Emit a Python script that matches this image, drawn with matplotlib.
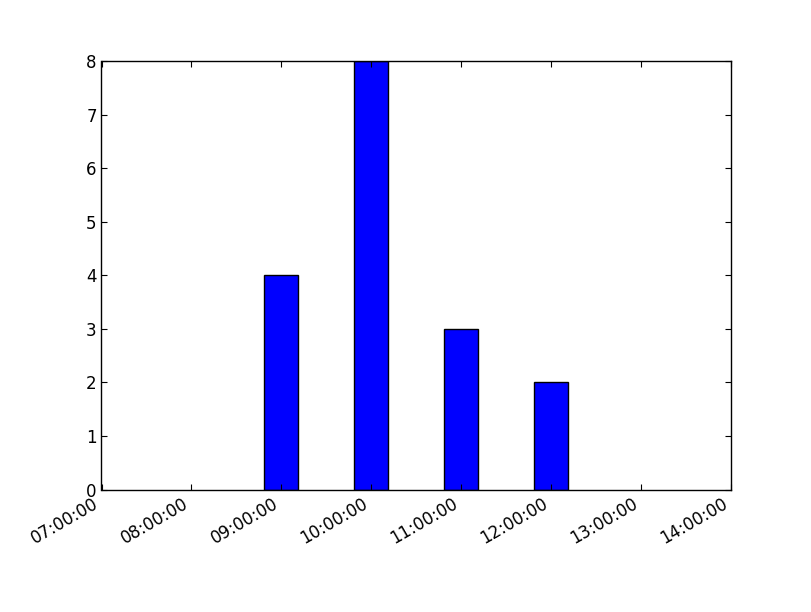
import datetime as dt
import matplotlib
matplotlib.use('Agg')
import matplotlib.pyplot as plt
import matplotlib.dates as mdates

# hourly counts
hours = [dt.datetime(2014, 1, 1, h) for h in [9, 10, 11, 12]]
counts = [4, 8, 3, 2]

x_start = dt.datetime(2014, 1, 1, 7)
x_end = dt.datetime(2014, 1, 1, 14)

fig = plt.figure(figsize=(8.12, 6.12), dpi=100)
ax = fig.add_subplot(111)

ax.bar(hours, counts, width=0.38 / 24, align='center',
       color='blue', edgecolor='black', linewidth=1.0)

ax.set_xlim(x_start, x_end)
ax.set_ylim(0, 8)
ax.xaxis.set_major_locator(mdates.HourLocator())
ax.xaxis.set_major_formatter(mdates.DateFormatter('%H:%M:%S'))

ax.tick_params(direction='in', top=True, right=True, length=4, width=0.8,
               labelsize=12)
for s in ax.spines.values():
    s.set_linewidth(1.0)

fig.subplots_adjust(left=0.125, right=0.9, top=0.9)
fig.autofmt_xdate()

fig.savefig('out.png', dpi=100)
